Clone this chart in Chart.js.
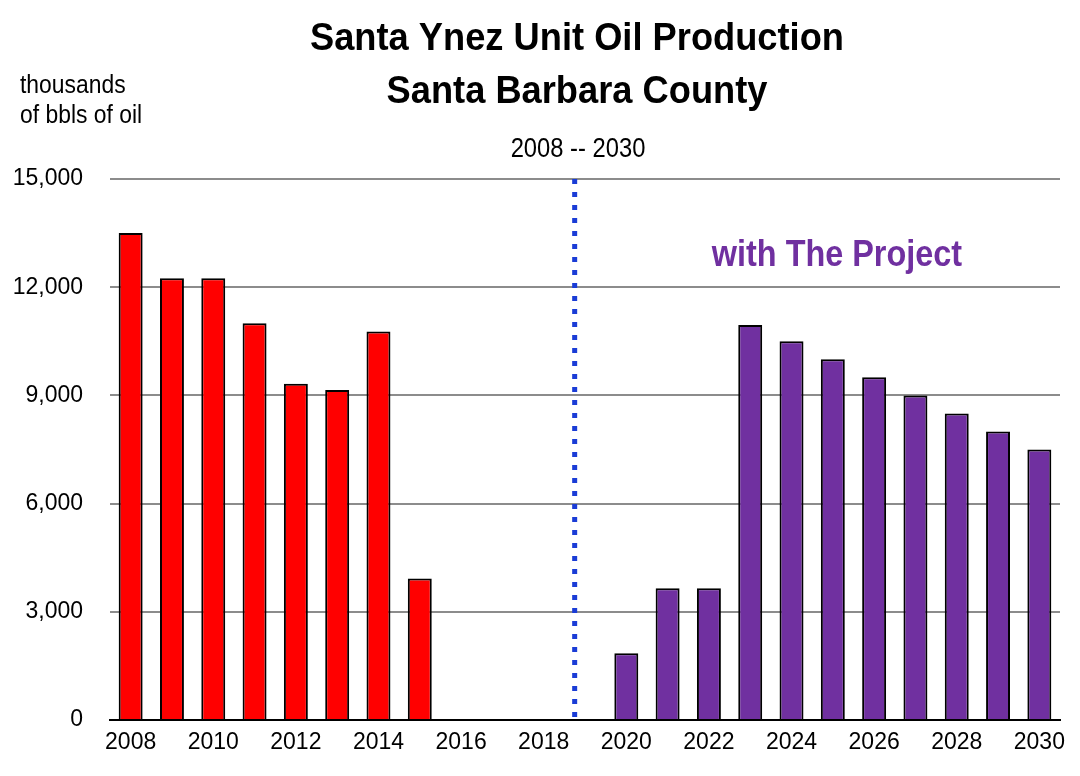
<html>
<head>
<title>Santa Ynez Unit Oil Production</title>
<script src="https://cdn.jsdelivr.net/npm/chart.js@4"></script>
<style>
    body { margin: 0; background: #fff; }
    #wrap { width: 1080px; height: 776px; }
</style>
</head>
<body>
<div id="wrap"><canvas id="myChart" width="1080" height="776"></canvas></div>
<script>
    // data (thousands of bbls)
    let aYears = ['2008','2009','2010','2011','2012','2013','2014','2015','2016','2017','2018','2019',
                  '2020','2021','2022','2023','2024','2025','2026','2027','2028','2029','2030'];
    let aActual = [13500, 12250, 12250, 11000, 9325, 9150, 10770, 3925,
                   null, null, null, null, null, null, null, null, null, null, null, null, null, null, null];
    let aProject = [null, null, null, null, null, null, null, null, null, null, null, null,
                    1850, 3650, 3650, 10950, 10500, 10000, 9500, 9000, 8500, 8000, 7500];
    let aYTicks = [0, 3000, 6000, 9000, 12000, 15000];

    let sFont = '"Liberation Sans", Arial, sans-serif';
    let dividerAt = 10.75;          // between 2018 and 2019 on the category axis
    let notePos = { x: 17.1, y: 12850 };

    // squeezed text, the original uses a narrow face
    function narrowText(ctx, text, x, y, font, squeeze, align) {
        ctx.save();
        ctx.font = font;
        ctx.textAlign = align;
        ctx.translate(x, y);
        ctx.scale(squeeze, 1);
        ctx.fillText(text, 0, 0);
        ctx.restore();
    }

    // titles, axis caption, dotted divider and the purple note
    let extrasPlugin = {
        id: 'extras',
        afterDraw: function(chart) {
            let ctx = chart.ctx;
            let xs = chart.scales.x, ys = chart.scales.y;
            ctx.save();
            ctx.fillStyle = '#000';
            ctx.textBaseline = 'alphabetic';
            narrowText(ctx, 'Santa Ynez Unit Oil Production', 577, 50, 'bold 39px ' + sFont, 0.93, 'center');
            narrowText(ctx, 'Santa Barbara County', 577, 103, 'bold 39px ' + sFont, 0.93, 'center');
            narrowText(ctx, '2008 -- 2030', 578, 157, '27px ' + sFont, 0.88, 'center');
            narrowText(ctx, 'thousands', 20, 93, '26px ' + sFont, 0.88, 'left');
            narrowText(ctx, 'of bbls of oil', 20, 123, '26px ' + sFont, 0.88, 'left');

            // dotted divider
            let xd = xs.getPixelForValue(dividerAt);
            ctx.strokeStyle = '#1a3cd6';
            ctx.lineWidth = 5;
            ctx.setLineDash([5, 8]);
            ctx.beginPath();
            ctx.moveTo(xd, ys.getPixelForValue(15000));
            ctx.lineTo(xd, ys.getPixelForValue(0));
            ctx.stroke();
            ctx.setLineDash([]);

            ctx.fillStyle = '#7030a0';
            ctx.textBaseline = 'middle';
            narrowText(ctx, 'with The Project', xs.getPixelForValue(notePos.x), ys.getPixelForValue(notePos.y),
                       'bold 36px ' + sFont, 0.9, 'center');
            ctx.restore();
        }
    };

    let ctx = document.getElementById('myChart').getContext('2d');
    let myChart = new Chart(ctx, {
        type: 'bar',
        data: {
            labels: aYears,
            datasets: [{
                label: 'actual',
                data: aActual,
                backgroundColor: '#ff0000',
                borderColor: '#000',
                borderWidth: 2,
                grouped: false
            }, {
                label: 'with The Project',
                data: aProject,
                backgroundColor: '#7030a0',
                borderColor: '#000',
                borderWidth: 2,
                grouped: false
            }]
        },
        options: {
            responsive: false,
            animation: false,
            layout: { padding: { top: 179, right: 20, left: 0, bottom: 0 } },
            datasets: { bar: { categoryPercentage: 1, barPercentage: 0.58 } },
            plugins: {
                legend: { display: false },
                title: { display: false },
                tooltip: { enabled: false }
            },
            scales: {
                x: {
                    grid: { display: false, drawTicks: false },
                    border: { display: true, color: '#000', width: 2 },
                    ticks: {
                        autoSkip: false,
                        maxRotation: 0,
                        padding: 9,
                        color: '#000',
                        font: { family: sFont, size: 23 },
                        callback: function(val, i) {
                            return i % 2 === 0 ? aYears[i] : '';
                        }
                    },
                    afterFit: function(scale) { scale.height = 56; }
                },
                y: {
                    min: 0,
                    max: 15000,
                    afterBuildTicks: function(scale) {
                        scale.ticks = aYTicks.map(function(v) { return { value: v }; });
                    },
                    grid: {
                        drawTicks: false,
                        color: function(c) { return c.tick.value === 0 ? '#000' : '#8c8c8c'; },
                        lineWidth: 2
                    },
                    border: { display: false },
                    ticks: {
                        padding: 27,
                        color: '#000',
                        font: { family: sFont, size: 23 },
                        callback: function(v) { return v.toLocaleString('en-US'); }
                    },
                    afterFit: function(scale) { scale.width = 110; }
                }
            }
        },
        plugins: [extrasPlugin]
    });
</script>
</body>
</html>
